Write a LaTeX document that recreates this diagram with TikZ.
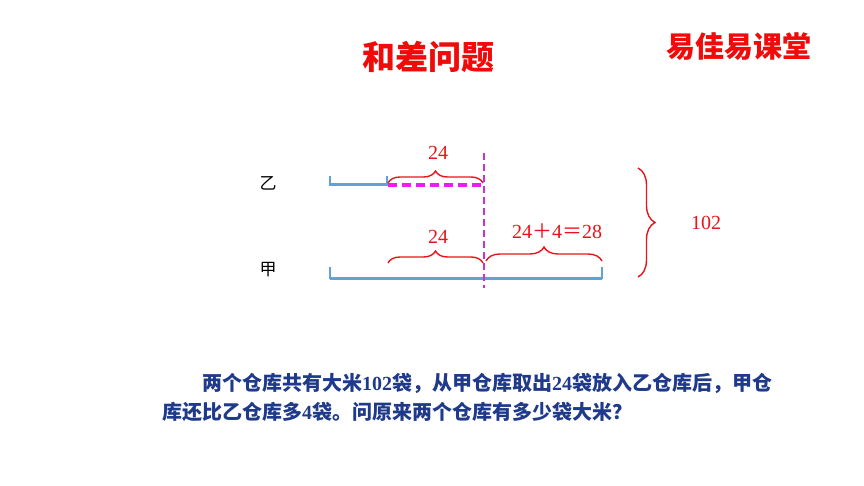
\documentclass[tikz,border=0pt]{standalone}
\usepackage{fontspec}
\usetikzlibrary{decorations.pathreplacing}
\newfontfamily\cjk{Noto Sans CJK SC}
\newfontfamily\ser{Liberation Serif}
\definecolor{tred}{HTML}{F00A0A}
\definecolor{bred}{HTML}{E8141B}
\definecolor{barblue}{HTML}{64A0D8}
\definecolor{mag}{HTML}{F21AF2}
\definecolor{vmag}{HTML}{CC33CC}
\definecolor{navy}{HTML}{1F3A8A}
\tikzset{
  bar/.style={barblue, line width=3pt},
  tick/.style={barblue, line width=2pt},
  movedash/.style={mag, line width=3.5pt, dash pattern=on 9pt off 5pt},
  vdash/.style={vmag, line width=2pt, dash pattern=on 7pt off 4pt},
  brc/.style={bred, line width=1.4pt, decorate, decoration={brace, amplitude=#1}},
  numlbl/.style={bred, font=\ser\fontsize{20}{20}\selectfont, inner sep=0pt},
  body/.style={navy, anchor=west, inner sep=0pt, font=\cjk\bfseries\fontsize{20}{20}\selectfont},
}
\newcommand{\dg}[1]{{\ser\bfseries #1}}
\begin{document}
\begin{tikzpicture}[x=1pt,y=-1pt]
\useasboundingbox[fill=white] (0,0) rectangle (864,486);
% titles
\node (title) at (428,57) {\textcolor{tred}{\cjk\bfseries\fontsize{33}{33}\selectfont 和差问题}};
\node (brand) at (739,47) {\textcolor{tred}{\cjk\bfseries\fontsize{29}{29}\selectfont 易佳易课堂}};
% row labels
\node (yi) at (268,183) {\cjk\fontsize{17}{17}\selectfont 乙};
\node (jia) at (268,270) {\cjk\fontsize{17}{17}\selectfont 甲};
% coordinates
\coordinate (yL) at (330,185);
\coordinate (yM) at (387,185);
\coordinate (yR) at (484,185);
\coordinate (jL) at (330,278);
\coordinate (jM) at (484,278);
\coordinate (jR) at (602,278);
\coordinate (vT) at (484,153);
\coordinate (vB) at (484,288);
% 乙 bar
\draw[bar] (yL) -- (yM);
\draw[tick] (330,176) -- (330,186);
\draw[tick] (387,176) -- (387,186);
\draw[movedash] (388,185) -- (yR);
% 甲 bar
\draw[bar] (jL) -- (jR);
\draw[tick] (330,267) -- (330,279);
\draw[tick] (602,267) -- (602,279);
% vertical dashed line
\draw[vdash] (vT) -- (vB);
% braces
\coordinate (b1a) at (388,183); \coordinate (b1b) at (483,183);
\draw[brc=12pt] (b1a) -- (b1b);
\node[numlbl] (l1) at (438,153) {24};
\coordinate (b2a) at (388,263); \coordinate (b2b) at (483,263);
\draw[brc=12pt] (b2a) -- (b2b);
\node[numlbl] (l2) at (438,237) {24};
\coordinate (b3a) at (486,261); \coordinate (b3b) at (602,261);
\draw[brc=14pt] (b3a) -- (b3b);
\node[numlbl] (l3) at (557,231) {24{\cjk\fontsize{20}{20}\selectfont ＋}4{\cjk\fontsize{20}{20}\selectfont ＝}28};
\coordinate (b4a) at (638,168); \coordinate (b4b) at (638,277);
\draw[brc=17pt] (b4a) -- (b4b);
\node[numlbl] (l4) at (706,223) {102};
% problem text
\node[body] (t1) at (202,383) {两个仓库共有大米\dg{102}袋，从甲仓库取出\dg{24}袋放入乙仓库后，甲仓};
\node[body] (t2) at (162,412) {库还比乙仓库多\dg{4}袋。问原来两个仓库有多少袋大米？};
\end{tikzpicture}
\end{document}
